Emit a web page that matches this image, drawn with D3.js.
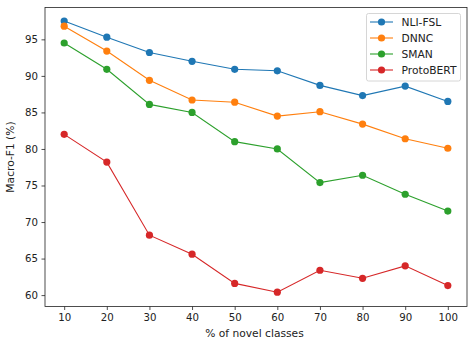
<!DOCTYPE html>
<html>
<head>
<meta charset="utf-8">
<script src="https://cdn.jsdelivr.net/npm/d3@7"></script>
<style>
  body { margin: 0; background: #fff; }
  text { font-family: "DejaVu Sans", sans-serif; fill: #222; }
</style>
</head>
<body>
<div id="chart"></div>
<script>
'use strict';

var classes = [10, 20, 30, 40, 50, 60, 70, 80, 90, 100];
var seriesNames = ['NLI-FSL', 'DNNC', 'SMAN', 'ProtoBERT'];
var nliFsl = [97.5, 95.3, 93.2, 92.0, 90.9, 90.7, 88.7, 87.3, 88.6, 86.5];
var dnnc = [96.8, 93.4, 89.4, 86.7, 86.4, 84.5, 85.1, 83.4, 81.4, 80.1];
var sman = [94.5, 90.9, 86.1, 85.0, 81.0, 80.0, 75.4, 76.4, 73.8, 71.5];
var protoBert = [82.0, 78.2, 68.2, 65.6, 61.6, 60.4, 63.4, 62.3, 64.0, 61.3];
var yTicks = [60, 65, 70, 75, 80, 85, 90, 95];
var colors = ['#1f77b4', '#ff7f0e', '#2ca02c', '#d62728'];

var width = 474;
var height = 348;
var plotLeft = 45, plotRight = 467, plotTop = 7.5, plotBottom = 306.5;

var allSeries = [nliFsl, dnnc, sman, protoBert];

var svg = d3.select('#chart').append('svg')
  .attr('width', width)
  .attr('height', height);

var x = d3.scaleLinear().domain([5.5, 104.5]).range([plotLeft, plotRight]);
var yMin = 60.3, yMax = 97.5, pad = (yMax - yMin) * 0.05;
var y = d3.scaleLinear().domain([yMin - pad, yMax + pad]).range([plotBottom, plotTop]);

var xAxis = svg.append('g')
  .attr('transform', 'translate(0,' + plotBottom + ')')
  .call(d3.axisBottom(x).tickValues(classes).tickSize(3.5).tickPadding(3.5));
var yAxis = svg.append('g')
  .attr('transform', 'translate(' + plotLeft + ',0)')
  .call(d3.axisLeft(y).tickValues(yTicks).tickSize(3.5).tickPadding(3.5));

[xAxis, yAxis].forEach(function (g) {
  g.select('.domain').remove();
  g.selectAll('line').attr('stroke', '#222').attr('stroke-width', 0.8);
  g.selectAll('text').attr('font-size', 10.2).attr('font-family', 'DejaVu Sans').attr('fill', '#222');
});

svg.append('rect')
  .attr('x', plotLeft).attr('y', plotTop)
  .attr('width', plotRight - plotLeft).attr('height', plotBottom - plotTop)
  .attr('fill', 'none').attr('stroke', '#222').attr('stroke-width', 0.8);

var line = d3.line()
  .x(function (d, i) { return x(classes[i]); })
  .y(function (d) { return y(d); });

allSeries.forEach(function (vals, s) {
  svg.append('path')
    .datum(vals)
    .attr('d', line)
    .attr('fill', 'none')
    .attr('stroke', colors[s])
    .attr('stroke-width', 1.1);
  svg.selectAll('circle.s' + s)
    .data(vals)
    .enter()
    .append('circle')
    .attr('class', 's' + s)
    .attr('cx', function (d, i) { return x(classes[i]); })
    .attr('cy', function (d) { return y(d); })
    .attr('r', 3.6)
    .attr('fill', colors[s]);
});

svg.append('text')
  .attr('x', 254.5)
  .attr('y', 337)
  .attr('text-anchor', 'middle')
  .attr('font-size', 10.7)
  .text('% of novel classes');

svg.append('text')
  .attr('transform', 'translate(14,' + ((plotTop + plotBottom) / 2) + ') rotate(-90)')
  .attr('text-anchor', 'middle')
  .attr('font-size', 10.7)
  .text('Macro-F1 (%)');

var legend = svg.append('g');
legend.append('rect')
  .attr('x', 366.5).attr('y', 13.5)
  .attr('width', 94).attr('height', 67.5)
  .attr('rx', 2)
  .attr('fill', '#fff').attr('fill-opacity', 0.8)
  .attr('stroke', '#ccc').attr('stroke-width', 0.8);

seriesNames.forEach(function (name, i) {
  var ly = 22 + i * 16;
  legend.append('line')
    .attr('x1', 370).attr('x2', 393)
    .attr('y1', ly).attr('y2', ly)
    .attr('stroke', colors[i]).attr('stroke-width', 1.1);
  legend.append('circle')
    .attr('cx', 381.5).attr('cy', ly).attr('r', 3.6)
    .attr('fill', colors[i]);
  legend.append('text')
    .attr('x', 401.5).attr('y', ly)
    .attr('dy', '0.35em')
    .attr('font-size', 10.7)
    .text(name);
});
</script>
</body>
</html>
